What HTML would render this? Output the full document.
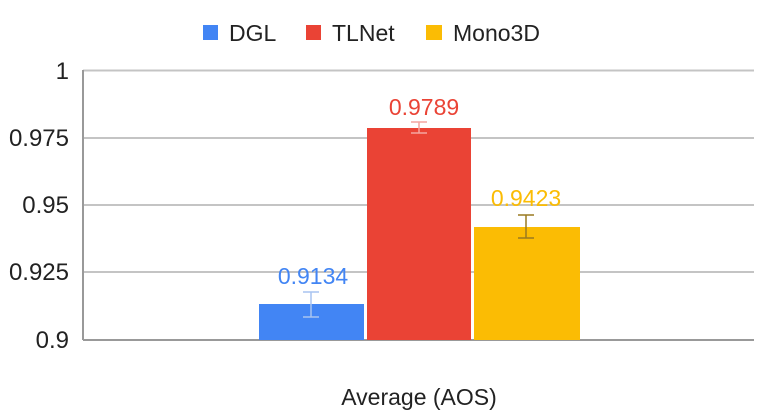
<!DOCTYPE html>
<html><head><meta charset="utf-8"><style>body{margin:0;background:#fff}svg{display:block}</style></head><body>
<svg width="764" height="420" xmlns="http://www.w3.org/2000/svg" font-family="Liberation Sans, sans-serif">
<g stroke="#c4c4c4" stroke-width="2">
<line x1="83" y1="70.5" x2="754" y2="70.5"/>
<line x1="83" y1="138" x2="754" y2="138"/>
<line x1="83" y1="205" x2="754" y2="205"/>
<line x1="83" y1="272" x2="754" y2="272"/>
</g>
<line x1="83" y1="340" x2="754" y2="340" stroke="#999" stroke-width="2"/>
<line x1="83" y1="70" x2="83" y2="340" stroke="#999" stroke-width="2"/>
<g font-size="24" fill="#222" text-anchor="end">
<text x="69" y="79">1</text>
<text x="69" y="146">0.975</text>
<text x="69" y="213">0.95</text>
<text x="69" y="280">0.925</text>
<text x="69" y="348">0.9</text>
</g>
<rect x="259" y="304" width="105" height="36" fill="#4285f4"/>
<rect x="367" y="128" width="104" height="212" fill="#ea4335"/>
<rect x="474" y="227" width="106" height="113" fill="#fbbc04"/>
<g stroke-width="1.5" fill="none">
<path d="M311 292V317M303 292H319M303 317H319" stroke="#a8c4f0"/>
<path d="M419 122V133M411 122H427M411 133H427" stroke="#f4a6a0"/>
<path d="M526 215V238M518 215H534M518 238H534" stroke="#9a7a20"/>
</g>
<g font-size="23" text-anchor="middle">
<text x="313" y="284" fill="#4285f4">0.9134</text>
<text x="424" y="115" fill="#ea4335">0.9789</text>
<text x="526" y="206" fill="#fbbc04">0.9423</text>
</g>
<g font-size="23" fill="#222">
<rect x="203" y="25" width="15" height="15" fill="#4285f4"/><text x="229" y="41">DGL</text>
<rect x="306" y="25" width="15" height="15" fill="#ea4335"/><text x="332" y="41">TLNet</text>
<rect x="426" y="25" width="16" height="15" fill="#fbbc04"/><text x="453" y="41">Mono3D</text>
<text x="419" y="405" text-anchor="middle">Average (AOS)</text>
</g>
</svg>
</body></html>
